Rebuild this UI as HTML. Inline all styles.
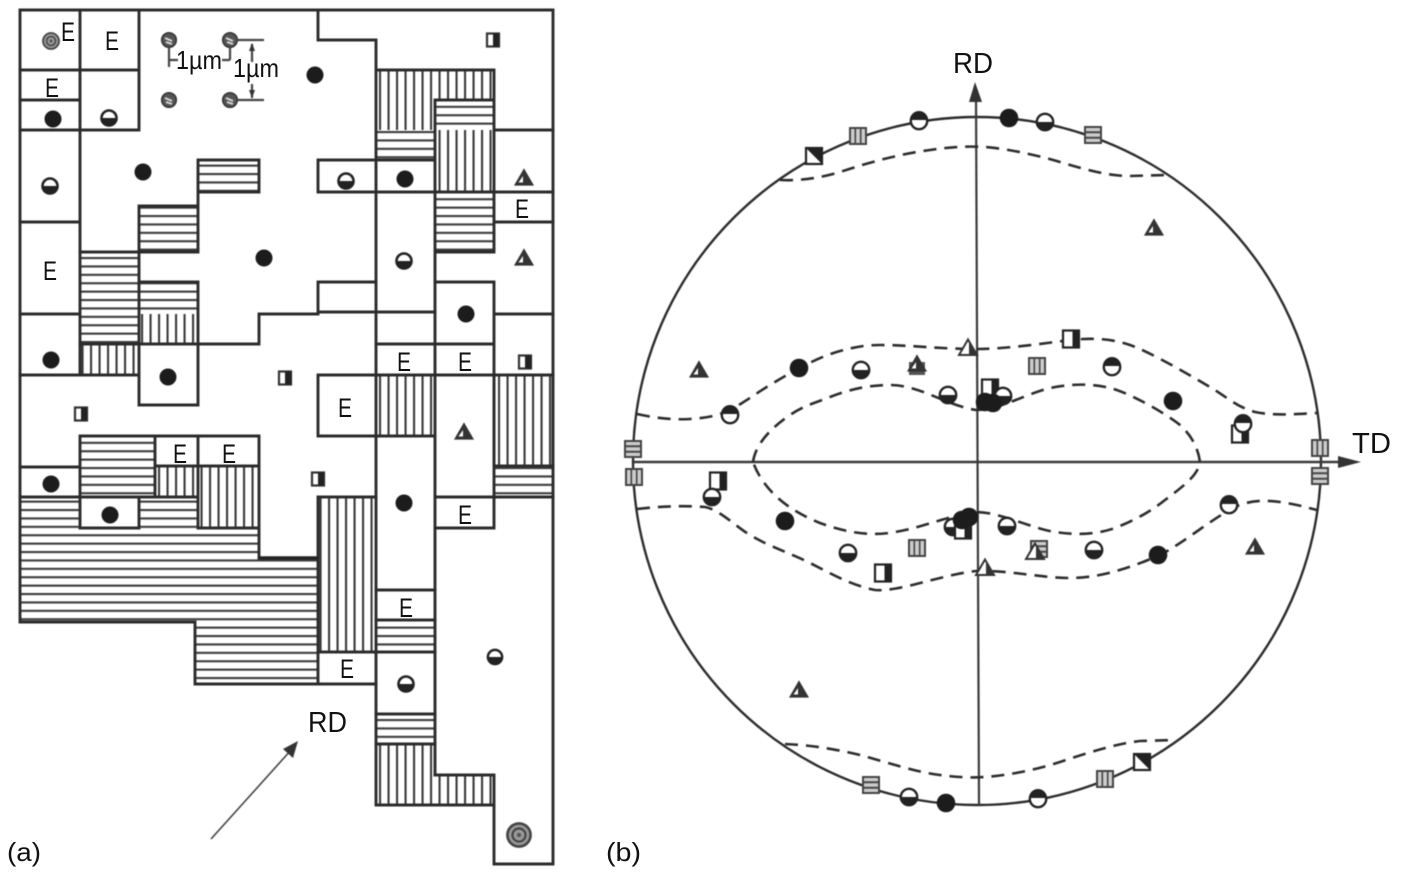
<!DOCTYPE html>
<html><head><meta charset="utf-8"><style>
html,body{margin:0;padding:0;background:#fff}
svg{display:block}
text{font-family:"Liberation Sans",sans-serif;fill:#111}
.g{filter:blur(.45px)}
</style></head><body>
<svg width="1412" height="887" viewBox="0 0 1412 887" xmlns="http://www.w3.org/2000/svg">
<defs>
<pattern id="ph" patternUnits="userSpaceOnUse" width="20" height="8.4" y="2"><rect width="20" height="8.4" fill="#fff"/><rect y="3" width="20" height="2.1" fill="#3a3a3a"/></pattern>
<pattern id="pv" patternUnits="userSpaceOnUse" width="8.5" height="20" x="2"><rect width="8.5" height="20" fill="#fff"/><rect x="3" width="2.1" height="20" fill="#3a3a3a"/></pattern>
<g id="sol"><circle r="8.5" fill="#1c1c1c"/></g>
<g id="solb"><circle r="9.3" fill="#1c1c1c"/></g>
<g id="hw"><circle r="7.5" fill="#fff" stroke="#222" stroke-width="2.6"/><path d="M-8,0A8,8 0 0 0 8,0Z" fill="#222"/></g>
<g id="hwb"><circle r="8.2" fill="#fff" stroke="#222" stroke-width="2.4"/><path d="M-9,0A9,9 0 0 0 9,0Z" fill="#222"/></g>
<g id="hbb"><circle r="8.2" fill="#fff" stroke="#222" stroke-width="2.4"/><path d="M-9,-1A9,9 0 0 1 9,-1Z" fill="#222"/></g>
<g id="con"><circle r="8" fill="#999" stroke="#444" stroke-width="1.8"/><circle r="4.500" fill="none" stroke="#444" stroke-width="1.500"/><circle r="1.500" fill="#555"/></g>
<g id="x"><circle r="7.300" fill="#555" stroke="#333" stroke-width="1.500"/><path d="M-4,-2L3,1M-3,2L3,4" stroke="#ddd" stroke-width="1.800"/></g>
<g id="sq"><rect x="-6" y="-6.500" width="12" height="13" fill="#fff" stroke="#333" stroke-width="2.200"/><rect x="0" y="-6.500" width="6" height="13" fill="#222"/></g>
<g id="tri"><path d="M0,-8.500L9,7H-9Z" fill="#333" stroke="#333" stroke-width="1.200"/><path d="M-1,-2L-1,4.500H-5.500Z" fill="#fff"/></g>
<g id="tro"><path d="M0,-8.500L9,7H-9Z" fill="#fff" stroke="#333" stroke-width="2"/><path d="M1,-6L8,7H1Z" fill="#333"/></g>
<g id="sv"><rect x="-8" y="-8" width="16" height="16" fill="#ccc" stroke="#444" stroke-width="2"/><path d="M-2.700,-8V8M2.700,-8V8" stroke="#444" stroke-width="1.600"/></g>
<g id="sh"><rect x="-8" y="-8" width="16" height="16" fill="#ccc" stroke="#444" stroke-width="2"/><path d="M-8,-2.700H8M-8,2.700H8" stroke="#444" stroke-width="2"/></g>
<g id="sb"><rect x="-8" y="-8.500" width="16" height="17" fill="#fff" stroke="#222" stroke-width="2.200"/><rect x="1.500" y="-8.500" width="6.500" height="17" fill="#222"/></g>
<g id="sd"><rect x="-8" y="-8" width="16" height="16" fill="#fff" stroke="#222" stroke-width="2.200"/><path d="M-8,-8H8V8Z" fill="#222"/></g>
</defs>

<g class="g">
<!-- hatched regions -->
<g stroke="none">
<path fill="url(#pv)" d="M376,70H494V130H376Z"/>
<path fill="url(#ph)" d="M435,100H494V130H435Z"/>
<path fill="url(#ph)" d="M376,130H435V160H376Z"/>
<path fill="url(#pv)" d="M435,130H494V192H435Z"/>
<path fill="url(#ph)" d="M435,192H494V252H435Z"/>
<path fill="url(#ph)" d="M198,160H259V192H198Z"/>
<path fill="url(#ph)" d="M139,206H198V252H139Z"/>
<path fill="url(#ph)" d="M80,252H139V282H198V314H139V344H80Z"/>
<path fill="url(#pv)" d="M139,314H198V344H139Z"/>
<path fill="url(#pv)" d="M80,344H139V375H80Z"/>
<path fill="url(#pv)" d="M376,375H435V436H376Z"/>
<path fill="url(#pv)" d="M494,375H553V466H494Z"/>
<path fill="url(#ph)" d="M494,466H553V497H494Z"/>
<path fill="url(#ph)" d="M80,436H155V497H80Z"/>
<path fill="url(#pv)" d="M155,466H259V528H198V497H155Z"/>
<path fill="url(#ph)" d="M20,497H80V528H139V497H198V528H259V558H318V684H195V622H20Z"/>
<path fill="url(#pv)" d="M318,497H376V652H318Z"/>
<path fill="#fff" d="M318,652H376V684H318Z"/>
<path fill="url(#ph)" d="M376,620H435V652H376Z"/>
<path fill="url(#ph)" d="M376,714H435V744H376Z"/>
<path fill="url(#pv)" d="M376,744H435V775H494V805H376Z"/>
</g>

<!-- panel a outlines -->
<g fill="none" stroke="#2c2c2c" stroke-width="2.900" stroke-linecap="square" stroke-linejoin="miter">
<path d="M20,10H553V864H494V805H376V684H195V622H20Z"/>
<path d="M80,10V375M20,70H139M20,100H80M20,130H139M139,10V130M20,222H80M20,314H80M20,375H139M139,344V405H198V344H259V314H318V282H376M318,312H435M376,160V344"/>
<path d="M318,10V40H376V70H494V130H553M376,70V160H435M318,160H435M318,160V192H494M435,100H494M435,100V344M494,70V252H435M494,192H553M494,222H553"/>
<path d="M198,160H259V192H198M198,160V252H139V206H198M80,252H139V344M139,282H198V344M80,344H198"/>
<path d="M435,282H494V466M494,314H553M376,344H494M376,344V375M435,344V775M318,375H553M318,375V436H376M376,375V684"/>
<path d="M376,436H435M376,590H435M376,620H435M376,652H435M376,714H435M376,744H435M435,775H494V805M435,497H553M494,466H553M494,375V497M494,497V528H435"/>
<path d="M20,467H80M20,497H198M80,436V528H139V497M80,436H259V558H318M155,436V497M155,466H259M198,436V528H259M318,497H376M318,497V684M318,652H376"/>
</g>
<path d="M259,558H318" stroke="#222" stroke-width="3.500"/>

<!-- markers a -->
<use href="#con" x="51" y="41"/>
<g transform="translate(519,835) scale(1.450)"><use href="#con"/></g>
<use href="#x" x="169" y="40"/><use href="#x" x="230" y="40"/><use href="#x" x="169" y="100"/><use href="#x" x="230" y="100"/>
<use href="#sol" x="315" y="75"/><use href="#sol" x="143" y="172"/><use href="#sol" x="264" y="258"/><use href="#sol" x="405" y="179"/><use href="#sol" x="466" y="314"/><use href="#sol" x="51" y="360"/><use href="#sol" x="168" y="377"/><use href="#sol" x="404" y="503"/><use href="#sol" x="51" y="484"/><use href="#sol" x="110" y="515"/><use href="#sol" x="53" y="119"/>
<use href="#hw" x="109" y="118"/><use href="#hw" x="50" y="186"/><use href="#hw" x="346" y="181"/><use href="#hw" x="404" y="261"/>
<g transform="translate(495,657) scale(.95)"><use href="#hw"/></g>
<use href="#hw" x="406" y="684"/>
<use href="#sq" x="493" y="40"/><use href="#sq" x="285" y="378"/><use href="#sq" x="81" y="414"/><use href="#sq" x="318" y="479"/><use href="#sq" x="525" y="362"/>
<use href="#tri" x="524" y="178"/><use href="#tri" x="524" y="258"/><use href="#tri" x="464" y="432"/>

<!-- dimension marks -->
<g stroke="#444" stroke-width="2.200" fill="none">
<path d="M169,47V67M169,60H178M230,47V60M222,60H230M237,40H264M237,100H264M252,44V62M252,84V98"/>
</g>
<path d="M252,43l-3,8h6ZM252,98l-3,-8h6Z" fill="#333"/>

<!-- RD arrow in a -->
<path d="M211,839L292,749" stroke="#444" stroke-width="1.600" fill="none"/>
<path d="M298,741L293,758L283,749Z" fill="#333"/>

<!-- panel b -->
<circle cx="977" cy="461" r="344" fill="none" stroke="#2c2c2c" stroke-width="2.400"/>
<path d="M634,462H1345" stroke="#3a3a3a" stroke-width="2.400" fill="none"/>
<path d="M1361,462L1338,456V468Z" fill="#333"/>
<path d="M976,95L979,805" stroke="#3a3a3a" stroke-width="2.200" fill="none"/>
<path d="M975,82L969,102H982Z" fill="#333"/>

<g fill="none" stroke="#2c2c2c" stroke-width="2.600" stroke-dasharray="13,8" stroke-linejoin="round">
<path d="M780,180C800,181 820,178 840,172C870,162 900,154 930,150C950,147 965,146 985,147C1010,149 1040,156 1060,162C1090,171 1110,176 1130,176L1165,175"/>
<path d="M785,744C810,745 835,749 860,755C890,763 915,772 940,775C955,777 970,778 985,777C1010,775 1035,770 1060,762C1090,752 1115,744 1140,741L1175,740"/>
<path d="M637,414C655,418 672,420 690,419C705,418 718,416 730,410C745,402 755,394 770,385C790,373 815,358 840,351C855,347 865,345 880,345C910,345 940,349 976,349C1005,349 1040,344 1070,340C1090,338 1110,338 1130,345C1150,352 1190,375 1215,390C1230,400 1240,408 1255,412C1275,416 1295,414 1317,413"/>
<path d="M753,462C755,448 765,432 790,415C805,405 815,403 830,397C850,389 870,385 890,385C920,385 945,405 976,410C1000,410 1025,394 1050,388C1070,384 1090,383 1110,388C1130,393 1165,413 1180,425C1192,436 1198,448 1200,462C1198,475 1185,485 1165,500C1150,512 1135,520 1115,528C1095,535 1075,535 1055,532C1030,528 1000,512 976,512C950,515 925,527 895,532C870,537 845,532 820,523C795,513 765,495 753,462"/>
<path d="M637,509C655,507 680,505 705,507C720,510 735,526 750,535C770,547 790,553 810,563C830,573 850,585 875,590C900,592 940,575 976,571C1010,570 1040,578 1070,578C1100,578 1130,568 1160,555C1185,542 1210,520 1235,507C1250,500 1265,500 1280,502C1295,504 1305,507 1317,510"/>
</g>

<!-- markers b -->
<use href="#hbb" x="919" y="121"/><use href="#hbb" x="1038" y="799"/><use href="#hbb" x="730" y="415"/><use href="#hbb" x="1229" y="505"/><use href="#hbb" x="1112" y="367"/>
<use href="#hwb" x="1045" y="122"/><use href="#hwb" x="909" y="797"/><use href="#hwb" x="861" y="370"/><use href="#hwb" x="948" y="395"/><use href="#hwb" x="1007" y="526"/><use href="#hwb" x="1094" y="550"/><use href="#hwb" x="848" y="553"/>
<use href="#sb" x="718" y="481"/><use href="#hwb" x="712" y="497"/>
<use href="#sb" x="1240" y="434"/><use href="#hbb" x="1243" y="424"/>
<use href="#solb" x="1009" y="118"/><use href="#solb" x="946" y="803"/><use href="#solb" x="799" y="368"/><use href="#solb" x="1173" y="401"/><use href="#solb" x="785" y="521"/><use href="#solb" x="1158" y="555"/>
<use href="#sv" x="858" y="136"/><use href="#sv" x="1037" y="366"/><use href="#sv" x="917" y="548"/><use href="#sv" x="1105" y="779"/><use href="#sv" x="634" y="477"/><use href="#sv" x="1320" y="448"/>
<use href="#sh" x="1093" y="135"/><use href="#sh" x="871" y="785"/><use href="#sh" x="633" y="449"/><use href="#sh" x="1320" y="476"/>
<use href="#sb" x="1071" y="339"/><use href="#sb" x="883" y="573"/>
<use href="#sd" x="814" y="156"/><use href="#sd" x="1142" y="762"/>
<use href="#tri" x="699" y="370"/><use href="#tri" x="1154" y="228"/><use href="#tri" x="1255" y="547"/><use href="#tri" x="799" y="690"/>
<use href="#tro" x="968" y="348"/><use href="#tro" x="985" y="568"/>
<rect x="909" y="362" width="16" height="13" fill="#555"/><use href="#tri" x="917" y="364"/>
<use href="#sh" x="1039" y="549"/><use href="#tro" x="1035" y="552"/>
<use href="#sb" x="990" y="388"/><use href="#hwb" x="1003" y="396"/><use href="#solb" x="985" y="402"/><use href="#solb" x="993" y="403"/>
<use href="#hwb" x="953" y="527"/><use href="#sb" x="963" y="530"/><use href="#solb" x="969" y="517"/><use href="#solb" x="962" y="520"/>
</g>

<!-- E labels -->
<g font-size="27" text-anchor="middle">
<text x="68" y="41" textLength="14" lengthAdjust="spacingAndGlyphs">E</text>
<text x="112" y="50" textLength="14" lengthAdjust="spacingAndGlyphs">E</text>
<text x="52" y="97" textLength="14" lengthAdjust="spacingAndGlyphs">E</text>
<text x="50" y="280" textLength="14" lengthAdjust="spacingAndGlyphs">E</text>
<text x="522" y="218" textLength="14" lengthAdjust="spacingAndGlyphs">E</text>
<text x="404" y="371" textLength="14" lengthAdjust="spacingAndGlyphs">E</text>
<text x="465" y="371" textLength="14" lengthAdjust="spacingAndGlyphs">E</text>
<text x="345" y="417" textLength="14" lengthAdjust="spacingAndGlyphs">E</text>
<text x="180" y="463" textLength="14" lengthAdjust="spacingAndGlyphs">E</text>
<text x="229" y="463" textLength="14" lengthAdjust="spacingAndGlyphs">E</text>
<text x="465" y="524" textLength="14" lengthAdjust="spacingAndGlyphs">E</text>
<text x="406" y="617" textLength="14" lengthAdjust="spacingAndGlyphs">E</text>
<text x="347" y="678" textLength="14" lengthAdjust="spacingAndGlyphs">E</text>
</g>
<g font-size="26">
<text x="176" y="69" textLength="46" lengthAdjust="spacingAndGlyphs">1µm</text>
<text x="233" y="77" textLength="46" lengthAdjust="spacingAndGlyphs">1µm</text>
<text x="308" y="732" font-size="29" textLength="39" lengthAdjust="spacingAndGlyphs">RD</text>
<text x="7" y="861" textLength="34" lengthAdjust="spacingAndGlyphs">(a)</text>
<text x="606" y="861" textLength="35" lengthAdjust="spacingAndGlyphs">(b)</text>
<text x="953" y="73" font-size="29" textLength="40" lengthAdjust="spacingAndGlyphs">RD</text>
<text x="1352" y="453" font-size="29" textLength="39" lengthAdjust="spacingAndGlyphs">TD</text>
</g>
</svg>
</body></html>
